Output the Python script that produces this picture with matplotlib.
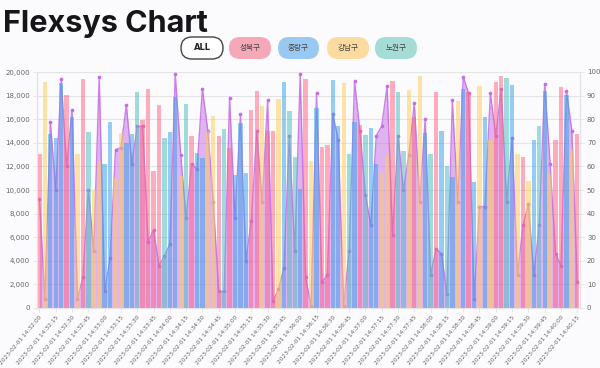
import matplotlib
matplotlib.use("Agg")
import matplotlib.pyplot as plt
from matplotlib.patches import FancyBboxPatch
import numpy as np
import pandas as pd

# ---------------- data ----------------
districts = ["성북구", "중랑구", "강남구", "노원구"]
# bar values (left axis), one per 5-second slot
bar_values = [
    13050, 19130, 14770, 14400, 19070, 18080, 16190, 13050, 19400, 14890,
    10030, 12500, 12230, 15740, 11020, 14830, 13980, 14750, 18300, 15960,
    18560, 11640, 17230, 14400, 14920, 17880, 11220, 17290, 14550, 13140,
    12710, 14970, 16240, 14550, 15170, 13560, 11240, 15680, 11440, 16810,
    18360, 17150, 15030, 14970, 17710, 19150, 16720, 12800, 10110, 19400,
    12430, 16950, 13640, 13840, 19350, 15450, 19070, 13050, 15740, 15540,
    14690, 15260, 12230, 11440, 12940, 19270, 18300, 13280, 18500, 16190,
    19690, 14830, 13050, 18300, 14970, 12010, 11100, 17520, 18590, 18300,
    10680, 18790, 16160, 14270, 19150, 19630, 19490, 18930, 13050, 12830,
    10790, 14210, 15400, 18420, 11360, 14270, 18700, 18080, 13470, 14770,
]
# which district each bar belongs to (P=성북구, B=중랑구, Y=강남구, T=노원구)
bar_district = list(
    "PYBBBPBYPT" "YYBBYYBBTP" "PPPTBBYTPB" "BYYPTPBBBP" "PYPPYBTTBP"
    "YBPPBBYTBP" "TBBYYPTTYP" "YBTPBTBYBP" "BYBYPPTBYP" "YBTBYPPBYP"
)
# line values (right axis, 0-100)
line_values = [
    46, 4, 79, 50, 97, 60, 84, 4, 13, 50,
    24, 98, 7, 21, 67, 68, 86, 61, 77, 77,
    28, 33, 18, 22, 27, 99, 65, 38, 61, 59,
    93, 75, 45, 7, 7, 89, 38, 82, 20, 37,
    75, 45, 88, 3, 8, 17, 73, 24, 99, 13,
    1, 91, 11, 14, 82, 71, 1, 24, 96, 75,
    48, 35, 73, 77, 94, 31, 73, 50, 65, 87,
    45, 80, 14, 25, 23, 6, 88, 45, 98, 91,
    4, 43, 43, 91, 73, 93, 45, 72, 14, 35,
    44, 14, 35, 95, 61, 23, 18, 92, 75, 11,
]
tick_labels = [t.strftime("%Y-%m-%d %H:%M:%S")
               for t in pd.date_range("2023-02-01 14:32:00", "2023-02-01 14:40:15", freq="15s")]

code_map = {"P": 0, "B": 1, "Y": 2, "T": 3}
series = {d: [np.nan] * len(bar_values) for d in districts}
for i, (v, c) in enumerate(zip(bar_values, bar_district)):
    series[districts[code_map[c]]][i] = v

# ---------------- style ----------------
bar_colors = {
    "성북구": (255/255, 99/255, 132/255, 0.52),
    "중랑구": (54/255, 162/255, 235/255, 0.52),
    "강남구": (255/255, 205/255, 86/255, 0.52),
    "노원구": (75/255, 192/255, 192/255, 0.52),
}
pill_colors = ["#f5a9b8", "#99c9f0", "#fcdba0", "#a6dcd6"]
purple = (196/255, 110/255, 228/255)
bg = "#fbfafc"
grid_c = "#e4e3e6"

plt.rcParams['font.family'] = ['Noto Sans CJK KR', 'DejaVu Sans']

fig = plt.figure(figsize=(6, 3.68), dpi=100, facecolor=bg)
ax2 = fig.add_axes([37/600, 1-308/368, (580-37)/600, (308-72)/368])
ax = ax2.twinx()
ax.yaxis.tick_left()
ax.yaxis.set_label_position("left")
ax2.yaxis.tick_right()
ax2.yaxis.set_label_position("right")
ax.set_zorder(ax2.get_zorder() + 1)
ax.patch.set_visible(False)
ax2.set_facecolor(bg)

x = np.arange(len(bar_values))

ax2.set_ylim(0, 100)
for gy in range(10, 101, 10):
    ax2.axhline(gy, color=grid_c, lw=0.8, zorder=0)

# line on right axis
ax2.fill_between(x, 0, line_values, color=purple, alpha=0.5, linewidth=0, zorder=1)
ax2.plot(x, line_values, color=purple, lw=1.0, alpha=0.85, zorder=2)
ax2.scatter(x, line_values, s=7, color=purple, zorder=3, linewidths=0)
ax2.set_yticks(range(0, 101, 10))

for d in districts:
    ax.bar(x, series[d], width=0.8, color=bar_colors[d], zorder=2)
ax.set_ylim(0, 20000)
ax.set_yticks(range(0, 20001, 2000))
ax.set_yticklabels([f"{v:,}" for v in range(0, 20001, 2000)])
ax2.set_xlim(-0.45, 99.5)

ax2.set_xticks(range(0, len(bar_values), 3))
ax2.set_xticklabels(tick_labels, rotation=50, ha="right", rotation_mode="anchor",
                    fontsize=4.2, color="#666666", family="DejaVu Sans")
ax.tick_params(axis="x", bottom=False, labelbottom=False, top=False, labeltop=False)

for a in (ax, ax2):
    a.spines["top"].set_visible(False)
    for s in ("left", "right", "bottom"):
        a.spines[s].set_color(grid_c)
        a.spines[s].set_linewidth(0.8)
    a.tick_params(axis="y", length=3, width=0.6, color=grid_c,
                  labelsize=5, labelcolor="#666666", pad=2)
ax2.tick_params(axis="x", length=3, width=0.6, color=grid_c, pad=1.5)
for lab in ax.get_yticklabels() + ax2.get_yticklabels():
    lab.set_family("DejaVu Sans")

# ---------------- title & legend pills ----------------
ov = fig.add_axes([0, 0, 1, 1], zorder=10)
ov.set_xlim(0, 600)
ov.set_ylim(368, 0)
ov.axis("off")
ov.patch.set_visible(False)

ov.text(3, 31.7, "Flexsys Chart", fontsize=22, fontweight="bold",
        family=["Inter", "DejaVu Sans"], va="baseline", ha="left", color="#16161a")

pills = [("ALL", 181, 223, "white")] + [
    (d, x0, x1, c) for d, (x0, x1), c in zip(
        districts, [(229, 271), (278, 319), (327, 369), (375, 417)], pill_colors)]
for label, x0, x1, c in pills:
    h = 22
    y0 = 37
    if label == "ALL":
        p = FancyBboxPatch((x0, y0), x1 - x0, h,
                           boxstyle="round,pad=0,rounding_size=11",
                           fc="white", ec="#444444", lw=1.0)
        ov.add_patch(p)
        ov.text((x0 + x1) / 2, y0 + h / 2, "ALL", fontsize=6, fontweight="bold",
                ha="center", va="center", color="#222222", family="DejaVu Sans")
    else:
        p = FancyBboxPatch((x0, y0), x1 - x0, h,
                           boxstyle="round,pad=0,rounding_size=11",
                           fc=c, ec="none")
        ov.add_patch(p)
        ov.text((x0 + x1) / 2, y0 + h / 2, label, fontsize=5.5,
                ha="center", va="center", color="#444444",
                family=["Noto Sans CJK KR", "DejaVu Sans"])

fig.savefig("out.png", dpi=100, facecolor=bg)
